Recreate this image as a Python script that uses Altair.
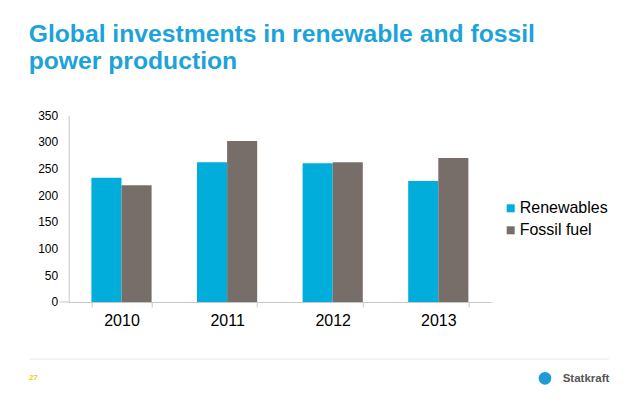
import altair as alt
import pandas as pd

# ---- data ----
years = ["2010", "2011", "2012", "2013"]
renewables = [233, 262, 260, 227]
fossil_fuel = [219, 302, 262, 270]
series = ["Renewables", "Fossil fuel"]
colors = ["#00ADDB", "#786E69"]
y_ticks = [0, 50, 100, 150, 200, 250, 300, 350]
title_lines = ["Global investments in renewable and fossil", "power production"]
page_number = "27"
brand = "Statkraft"

rows = []
for i, yr in enumerate(years):
    rows.append({"year": yr, "series": "Renewables", "value": renewables[i]})
    rows.append({"year": yr, "series": "Fossil fuel", "value": fossil_fuel[i]})
df = pd.DataFrame(rows)

FONT = "Liberation Sans"
AXIS_GREY = "#c6c6c6"

W = 422.4
H = 186.7

bars = alt.Chart(df).mark_bar().encode(
    x=alt.X(
        "year:N",
        title=None,
        sort=years,
        scale=alt.Scale(paddingInner=0.43, paddingOuter=0.215),
        axis=alt.Axis(
            labelAngle=0, tickBand="extent", tickSize=5, tickColor=AXIS_GREY,
            domainColor=AXIS_GREY, labelFontSize=16, labelPadding=6,
            labelColor="#000000", labelFont=FONT,
        ),
    ),
    xOffset=alt.XOffset("series:N", sort=series),
    y=alt.Y(
        "value:Q",
        title=None,
        scale=alt.Scale(domain=[0, 350], nice=False),
        axis=alt.Axis(
            values=y_ticks, grid=False, ticks=False, labelPadding=11,
            labelFontSize=12, domainColor=AXIS_GREY, labelFont=FONT,
            labelColor="#000000", labelOverlap=False,
        ),
    ),
    color=alt.Color(
        "series:N",
        sort=series,
        scale=alt.Scale(domain=series, range=colors),
        legend=alt.Legend(
            title=None, orient="none", legendX=434, legendY=85,
            symbolType="square", symbolSize=64, symbolStrokeWidth=0,
            labelFontSize=16, labelFont=FONT, labelColor="#000000",
            rowPadding=6, padding=0, labelOffset=1,
        ),
    ),
)

zero_tick = alt.Chart(pd.DataFrame({"v": [0]})).mark_rule(
    color=AXIS_GREY, strokeWidth=1
).encode(x=alt.value(-9), x2=alt.value(0), y=alt.value(H))

title1 = alt.Chart(pd.DataFrame({"t": [title_lines[0]]})).mark_text(
    align="left", baseline="alphabetic", font=FONT, fontSize=24.7,
    fontWeight="bold", color="#1CA3D9",
).encode(text="t:N", x=alt.value(-40), y=alt.value(-73.6))

title2 = alt.Chart(pd.DataFrame({"t": [title_lines[1]]})).mark_text(
    align="left", baseline="alphabetic", font=FONT, fontSize=24.7,
    fontWeight="bold", color="#1CA3D9",
).encode(text="t:N", x=alt.value(-40), y=alt.value(-46.3))

footer_rule = alt.Chart(pd.DataFrame({"v": [0]})).mark_rule(
    color="#e8e6df", strokeWidth=1
).encode(x=alt.value(-39), x2=alt.value(540), y=alt.value(243.7))

page_txt = alt.Chart(pd.DataFrame({"t": [page_number]})).mark_text(
    align="left", baseline="alphabetic", font=FONT, fontSize=8,
    fontWeight="bold", color="#E5D600",
).encode(text="t:N", x=alt.value(-39.7), y=alt.value(264.7))

logo = alt.Chart(pd.DataFrame({"v": [0]})).mark_point(
    shape="circle", filled=True, color="#1E9AD6", opacity=1, size=160
).encode(x=alt.value(476.3), y=alt.value(263))

brand_txt = alt.Chart(pd.DataFrame({"t": [brand]})).mark_text(
    align="left", baseline="alphabetic", font=FONT, fontSize=11.5,
    fontWeight="bold", color="#555555",
).encode(text="t:N", x=alt.value(494), y=alt.value(266.4))

chart = alt.layer(
    bars, zero_tick, title1, title2, footer_rule, page_txt, logo, brand_txt
).properties(
    width=W,
    height=H,
    autosize=alt.AutoSizeParams(type="none"),
    padding={"left": 60.7, "top": 107.3, "right": 136, "bottom": 86},
    background="#ffffff",
).configure_view(stroke=None)

chart.save("out.html", embed_options={"renderer": "svg", "actions": False})
